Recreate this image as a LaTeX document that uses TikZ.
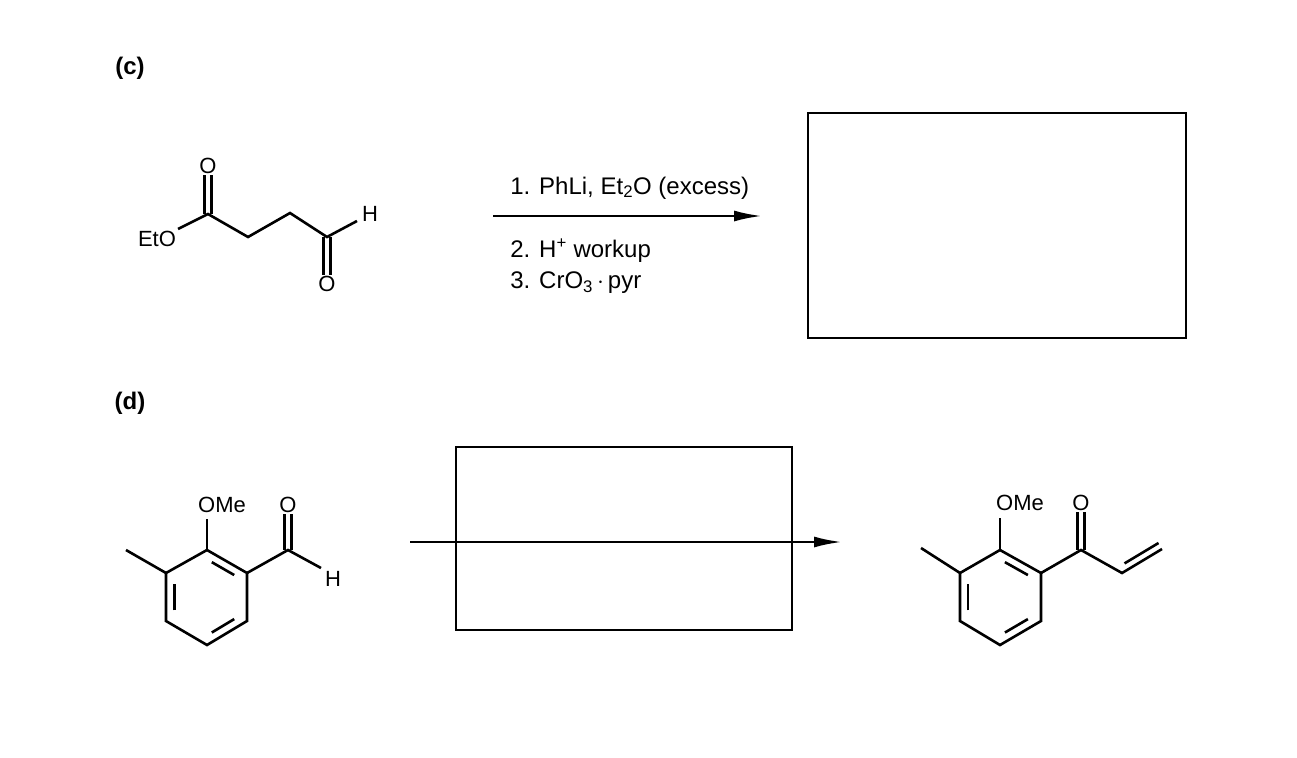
\documentclass[tikz,border=0pt]{standalone}
\usepackage{fontspec}
\setmainfont{Liberation Sans}
\usetikzlibrary{arrows.meta,calc}
\begin{document}
\begin{tikzpicture}[x=1pt,y=-1pt,line width=2.6pt,
  lbl/.style={inner sep=0pt,font=\fontsize{22}{24}\selectfont},
  rg/.style={inner sep=0pt,anchor=west,font=\fontsize{24}{26}\selectfont},
  tag/.style={inner sep=0pt,font=\bfseries\fontsize{24}{26}\selectfont},
  bx/.style={draw,line width=2pt}]
\useasboundingbox (0,0) rectangle (1297,757);
\node[tag] (tc) at (130,68) {(c)};
\node[tag] (td) at (130,403) {(d)};
% molecule c
\node[lbl] (eto) at (157,239) {EtO};
\coordinate (a1) at (208,214);
\coordinate (a2) at (248,237);
\coordinate (a3) at (290,213);
\coordinate (a4) at (327,237);
\node[lbl] (o1) at (208,166) {O};
\node[lbl] (o2) at (327,284) {O};
\node[lbl] (h1) at (370,214) {H};
\draw (178,229) -- (a1) -- (a2) -- (a3) -- (a4) -- (357,221);
\draw ([xshift=-3.5pt]a1) -- ([xshift=-3.5pt]o1.south);
\draw ([xshift=3.5pt]a1) -- ([xshift=3.5pt]o1.south);
\draw ([xshift=-3.5pt]a4) -- ([xshift=-3.5pt]o2.north);
\draw ([xshift=3.5pt]a4) -- ([xshift=3.5pt]o2.north);
% arrow c
\coordinate (c1) at (493,216);
\coordinate (c2) at (762,216);
\draw[-{Latex[length=28pt,width=11pt]}] (c1) -- (c2);
\node[rg] (r1) at (509,188) {1. PhLi, Et\textsubscript{2}O (excess)};
\node[rg] (r2) at (509,251) {2. H\textsuperscript{+} workup};
\node[rg] (r3) at (509,283) {3. CrO\textsubscript{3}\,$\cdot$\,pyr};
\node[bx,minimum width=378pt,minimum height=225pt] (boxc) at (997,225.5) {};
% molecule d left
\foreach \n/\x/\y in {b1/207/550,b2/247/573,b3/247/621,b4/207/645,b5/166/621,b6/166/573}
  \coordinate (\n) at (\x,\y);
\draw (b1)--(b2)--(b3)--(b4)--(b5)--(b6)--cycle;
\draw (b6) -- (126,550);
\node[lbl] (ome1) at (222,505) {OMe};
\draw (b1) -- (207,519);
\coordinate (b7) at (288,550);
\draw (b2) -- (b7) -- (321,568);
\node[lbl] (h2) at (333,579) {H};
\node[lbl] (o3) at (288,505) {O};
\draw ([xshift=-3.5pt]b7) -- ([xshift=-3.5pt]o3.south);
\draw ([xshift=3.5pt]b7) -- ([xshift=3.5pt]o3.south);
% arrow d
\node[bx,minimum width=336pt,minimum height=183pt] (boxd) at (624,538.5) {};
\coordinate (d1) at (410,542);
\coordinate (d2) at (842,542);
\draw[-{Latex[length=28pt,width=11pt]}] (d1) -- (d2);
% molecule d right
\foreach \n/\x/\y in {e1/1000/550,e2/1041/573,e3/1041/621,e4/1000/645,e5/960/621,e6/960/573}
  \coordinate (\n) at (\x,\y);
\draw (e1)--(e2)--(e3)--(e4)--(e5)--(e6)--cycle;
\draw (e6) -- (921,548);
\node[lbl] (ome2) at (1020,503) {OMe};
\draw (e1) -- (1000,518);
\coordinate (e7) at (1081,550);
\coordinate (e8) at (1122,573);
\coordinate (e9) at (1162,549);
\draw (e2) -- (e7) -- (e8) -- (e9);
\draw ($(e8)!0.15!(e9)+(-3.5,-6)$) -- ($(e9)+(-3.5,-6)$);
\node[lbl] (o4) at (1081,503) {O};
\draw ([xshift=-3.5pt]e7) -- ([xshift=-3.5pt]o4.south);
\draw ([xshift=3.5pt]e7) -- ([xshift=3.5pt]o4.south);
% inner ring double bonds
\foreach \p/\q/\cx/\cy in {b1/b2/207/597,b3/b4/207/597,b5/b6/207/597,e1/e2/1000/597,e3/e4/1000/597,e5/e6/1000/597}{
  \draw ($(\p)!0.15!(\q)!0.2!(\cx,\cy)$) -- ($(\q)!0.15!(\p)!0.2!(\cx,\cy)$);
}
\end{tikzpicture}
\end{document}
